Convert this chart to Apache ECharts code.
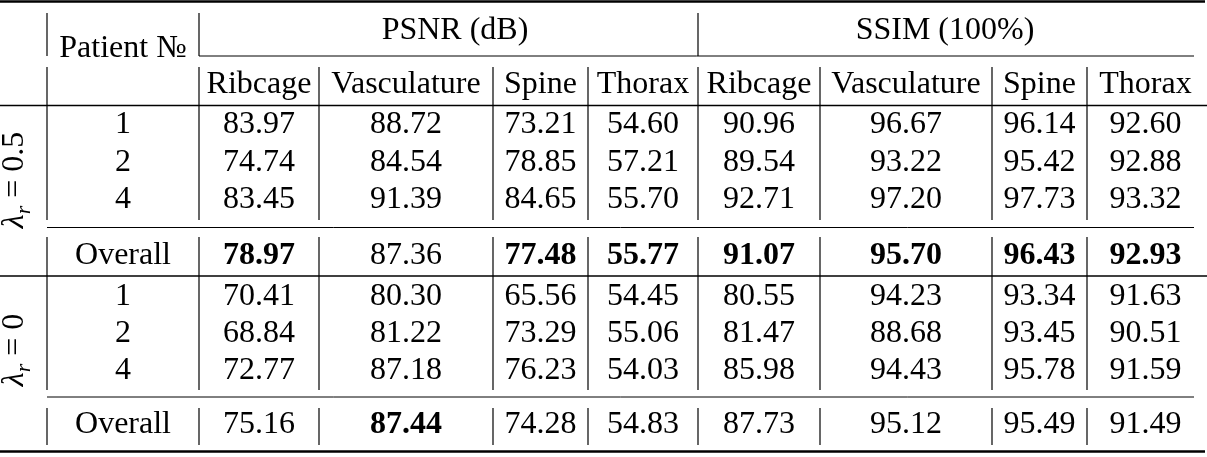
<!DOCTYPE html>
<html><head><meta charset="utf-8">
<script src="https://cdn.jsdelivr.net/npm/echarts@6/dist/echarts.min.js"></script>
<style>html,body{margin:0;padding:0;background:#fff}#c{width:1207px;height:457px}</style>
</head><body><div id="c"></div>
<script>
// ---------- data ----------
const metricGroups = ['PSNR (dB)', 'SSIM (100%)'];
const regions = ['Ribcage', 'Vasculature', 'Spine', 'Thorax'];
const patientRows = ['1', '2', '4', 'Overall'];
const patientHeader = 'Patient №';
const lambdaValues = ['0.5', '0'];

const psnrLambda05 = [
  [83.97, 88.72, 73.21, 54.60],
  [74.74, 84.54, 78.85, 57.21],
  [83.45, 91.39, 84.65, 55.70],
  [78.97, 87.36, 77.48, 55.77]
];
const ssimLambda05 = [
  [90.96, 96.67, 96.14, 92.60],
  [89.54, 93.22, 95.42, 92.88],
  [92.71, 97.20, 97.73, 93.32],
  [91.07, 95.70, 96.43, 92.93]
];
const psnrLambda0 = [
  [70.41, 80.30, 65.56, 54.45],
  [68.84, 81.22, 73.29, 55.06],
  [72.77, 87.18, 76.23, 54.03],
  [75.16, 87.44, 74.28, 54.83]
];
const ssimLambda0 = [
  [80.55, 94.23, 93.34, 91.63],
  [81.47, 88.68, 93.45, 90.51],
  [85.98, 94.43, 95.78, 91.59],
  [87.73, 95.12, 95.49, 91.49]
];

// ---------- layout (positions / styles) ----------
const W = 1207, H = 457;
const colEdges = [0, 47, 199, 319, 493, 588, 698, 820, 992, 1087, 1204];
const bodyRowY = [[125, 162.5, 200, 255.5], [296.5, 334, 371, 425]];
const groupHeaderY = 31, patientHeaderY = 49, regionHeaderY = 84.5;
const groupCenterX = [455, 945];
const lambdaLabelX = 15, lambdaLabelY = [180, 350];
const vBands = [
  { y1: 13, y2: 56, xs: [47, 199, 698] },
  { y1: 67, y2: 105, xs: null },
  { y1: 105, y2: 220, xs: null },
  { y1: 237, y2: 276, xs: null },
  { y1: 276, y2: 390, xs: null },
  { y1: 408, y2: 445, xs: null }
];
const hRules = [
  [0, 1205, 1.5, 2.7],
  [199, 1194, 56, 1],
  [0, 1207, 105.5, 1.3],
  [47, 1194, 227.5, 1],
  [0, 1207, 276, 1.3],
  [47, 1194, 397, 1],
  [0, 1205, 451.5, 2.7]
];
const FONT = '"Liberation Serif", "Times New Roman", serif';
const FS = 32;

// ---------- build cells ----------
const blocks = [[psnrLambda05, ssimLambda05], [psnrLambda0, ssimLambda0]];
const mid = (i) => (colEdges[i] + colEdges[i + 1]) / 2;
const cells = [];
metricGroups.forEach((g, gi) => cells.push([groupCenterX[gi], groupHeaderY, g, 0, 0]));
cells.push([mid(1), patientHeaderY, patientHeader, 0, 0]);
metricGroups.forEach((g, gi) => regions.forEach((r, ri) => cells.push([mid(2 + gi * 4 + ri), regionHeaderY, r, 0, 0])));
const lastRow = patientRows.length - 1;
blocks.forEach((blk, bi) => {
  patientRows.forEach((p, pi) => {
    cells.push([mid(1), bodyRowY[bi][pi], p, 0, 0]);
    blk.forEach((mat, gi) => {
      mat[pi].forEach((v, ri) => {
        let bold = 0;
        if (pi === lastRow) {
          const other = blocks[1 - bi][gi][lastRow][ri];
          bold = v > other ? 1 : 0;
        }
        cells.push([mid(2 + gi * 4 + ri), bodyRowY[bi][pi], v.toFixed(2), bold, 0]);
      });
    });
  });
  cells.push([lambdaLabelX, lambdaLabelY[bi], lambdaValues[bi], 0, 1]);
});

const lines = [];
const innerEdges = colEdges.slice(1, -1);
vBands.forEach(b => (b.xs || innerEdges).forEach(x => lines.push([x, b.y1, x, b.y2, 1.2])));
hRules.forEach(h => lines.push([h[0], h[2], h[1], h[2], h[3]]));

const chart = echarts.init(document.getElementById('c'), null, { renderer: 'canvas' });
chart.setOption({
  animation: false,
  backgroundColor: '#fff',
  grid: { left: 0, right: 0, top: 0, bottom: 0 },
  xAxis: { type: 'value', min: 0, max: W, show: false },
  yAxis: { type: 'value', min: 0, max: H, inverse: true, show: false },
  series: [
    {
      type: 'custom',
      data: lines,
      renderItem: (params, api) => {
        const p1 = api.coord([api.value(0), api.value(1)]);
        const p2 = api.coord([api.value(2), api.value(3)]);
        return {
          type: 'line',
          shape: { x1: p1[0], y1: p1[1], x2: p2[0], y2: p2[1] },
          style: { stroke: '#000', lineWidth: api.value(4) }
        };
      }
    },
    {
      type: 'custom',
      data: cells,
      dimensions: ['x', 'y', 'text', 'bold', 'rot'],
      renderItem: (params, api) => {
        const d = cells[params.dataIndex];
        const p = api.coord([d[0], d[1]]);
        if (d[4]) {
          return {
            type: 'text', x: p[0], y: p[1], rotation: Math.PI / 2,
            style: {
              text: '{l|λ}{s|r}{n| = ' + d[2] + '}',
              align: 'center', verticalAlign: 'middle', fill: '#000',
              rich: {
                l: { fontFamily: FONT, fontSize: FS, fontStyle: 'italic', lineHeight: 40, verticalAlign: 'middle' },
                s: { fontFamily: FONT, fontSize: 22, fontStyle: 'italic', lineHeight: 40, verticalAlign: 'bottom' },
                n: { fontFamily: FONT, fontSize: FS, lineHeight: 40, verticalAlign: 'middle' }
              }
            }
          };
        }
        return {
          type: 'text', x: p[0], y: p[1],
          style: {
            text: d[2], fontFamily: FONT, fontSize: FS, fontWeight: d[3] ? 'bold' : 'normal',
            fill: '#000', align: 'center', verticalAlign: 'middle'
          }
        };
      }
    }
  ]
});
</script></body></html>
